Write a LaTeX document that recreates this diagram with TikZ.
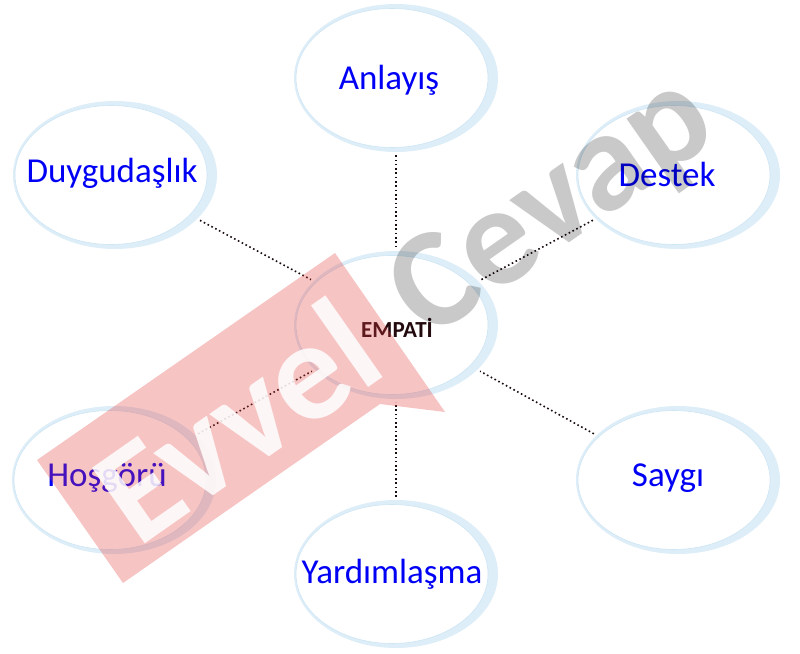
\documentclass[tikz,border=0pt]{standalone}
\usepackage{fontspec}
\setmainfont{Carlito}
\usetikzlibrary{shapes.geometric}
\definecolor{ringc}{RGB}{221,238,248}
\definecolor{ringedge}{RGB}{205,229,244}
\definecolor{lblblue}{RGB}{0,0,245}
\definecolor{empc}{RGB}{35,10,14}
\definecolor{dotc}{RGB}{25,12,12}
\definecolor{wmred}{RGB}{230,60,60}
\tikzset{
  bubout/.style={ellipse, fill=ringc, minimum width=204pt, minimum height=148pt, inner sep=0pt},
  bubin/.style={ellipse, fill=white, draw=ringedge, line width=0.6pt, minimum width=192pt, minimum height=139pt, inner sep=0pt},
  lbl/.style={text=lblblue, font=\fontsize{35}{40}\selectfont, inner sep=0pt},
  emplbl/.style={text=empc, font=\bfseries\fontsize{23}{26}\selectfont, inner sep=0pt},
  conn/.style={dotc, line width=1.6pt, line cap=butt, dash pattern=on 1.6pt off 2.7pt, shorten <=3pt, shorten >=3pt},
  wmtext/.style={rotate=35, font=\bfseries\fontsize{142}{150}\selectfont, inner sep=0pt},
}
\begin{document}
\begin{tikzpicture}[x=1pt,y=-1pt]
\useasboundingbox[fill=white] (0,0) rectangle (800,653);
% bubbles
\node[bubout] (anl) at (396,78) {};
\node[bubout] (duyg) at (115,175) {};
\node[bubout] (dest) at (678,175) {};
\node[bubout] (emp) at (396,325) {};
\node[bubout] (hos) at (114,480) {};
\node[bubout] (say) at (678,480) {};
\node[bubout] (yard) at (396,574) {};
\foreach \n in {anl,duyg,dest,emp,hos,say,yard}{
  \node[bubin] (\n in) at ([xshift=-4pt]\n.center) {};
}
% labels
\node[lbl] (tanl) at (389,80) {Anlayış};
\node[lbl] (tduyg) at (112,173) {Duygudaşlık};
\node[lbl] (tdest) at (667,174) {Destek};
\node[emplbl] (temp) at (397,328) {EMPATİ};
\node[lbl] (thos) at (107,478) {Hoşgörü};
\node[lbl] (tsay) at (668,478) {Saygı};
\node[lbl] (tyard) at (392,574) {Yardımlaşma};
% connectors
\draw[conn] (anl) -- (emp);
\draw[conn] (yard) -- (emp);
\draw[conn] (duyg) -- (emp);
\draw[conn] (dest) -- (emp);
\draw[conn] (hos) -- (emp);
\draw[conn] (say) -- (emp);
% watermark
\fill[wmred, opacity=0.3] (37,460) -- (335,253) -- (445,412) -- (380,404) -- (123,583) -- cycle;
\node[wmtext, text=white, opacity=0.85] (wme) at (236,420) {Evvel};
\node[wmtext, text=black, opacity=0.21] (wmc) at (555,210) {Cevap};
\end{tikzpicture}
\end{document}
